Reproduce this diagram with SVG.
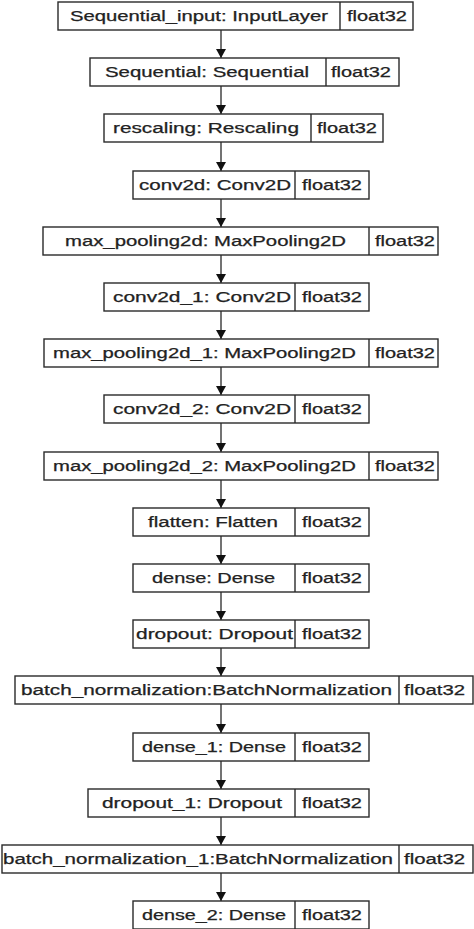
<svg xmlns="http://www.w3.org/2000/svg" width="474" height="929" viewBox="0 0 474 929">
<defs>
<style>
.box{fill:#fff;stroke:#2a2a2a;stroke-width:1.4}
.t{font-family:"Liberation Sans",Arial,sans-serif;font-size:14px;fill:#222;stroke:#222;stroke-width:0.25}
.e{stroke:#444;stroke-width:1.5;fill:none;marker-end:url(#ah)}
</style>
<marker id="ah" markerUnits="userSpaceOnUse" viewBox="0 0 9 10" refX="9" refY="5" markerWidth="9" markerHeight="10" orient="auto">
<path d="M0,0 L9,5 L0,10 z" fill="#111"/>
</marker>
</defs>
<rect width="474" height="929" fill="#fff"/>
<g id="connectors">
<line class="e" x1="221" y1="30" x2="221" y2="58"/>
<line class="e" x1="221" y1="86" x2="221" y2="114"/>
<line class="e" x1="221" y1="142" x2="221" y2="171"/>
<line class="e" x1="221" y1="199" x2="221" y2="227"/>
<line class="e" x1="221" y1="255" x2="221" y2="283"/>
<line class="e" x1="221" y1="311" x2="221" y2="339"/>
<line class="e" x1="221" y1="367" x2="221" y2="395"/>
<line class="e" x1="221" y1="423" x2="221" y2="452"/>
<line class="e" x1="221" y1="480" x2="221" y2="508"/>
<line class="e" x1="221" y1="536" x2="221" y2="564"/>
<line class="e" x1="221" y1="592" x2="221" y2="620"/>
<line class="e" x1="221" y1="648" x2="221" y2="676"/>
<line class="e" x1="221" y1="704" x2="221" y2="733"/>
<line class="e" x1="221" y1="761" x2="221" y2="789"/>
<line class="e" x1="221" y1="817" x2="221" y2="845"/>
<line class="e" x1="221" y1="873" x2="221" y2="901"/>
</g>
<g id="n1"><rect class="box" x="58" y="2" width="355" height="28"/><line class="box" x1="340" y1="2" x2="340" y2="30"/><text class="t" x="70" y="21" textLength="258" lengthAdjust="spacingAndGlyphs">Sequential_input: InputLayer</text><text class="t" x="347" y="21" textLength="60" lengthAdjust="spacingAndGlyphs">float32</text></g>
<g id="n2"><rect class="box" x="90" y="58" width="309" height="28"/><line class="box" x1="326" y1="58" x2="326" y2="86"/><text class="t" x="105" y="77" textLength="204" lengthAdjust="spacingAndGlyphs">Sequential: Sequential</text><text class="t" x="331" y="77" textLength="60" lengthAdjust="spacingAndGlyphs">float32</text></g>
<g id="n3"><rect class="box" x="104" y="114" width="279" height="28"/><line class="box" x1="311" y1="114" x2="311" y2="142"/><text class="t" x="113" y="133" textLength="186" lengthAdjust="spacingAndGlyphs">rescaling: Rescaling</text><text class="t" x="317" y="133" textLength="60" lengthAdjust="spacingAndGlyphs">float32</text></g>
<g id="n4"><rect class="box" x="133" y="171" width="236" height="28"/><line class="box" x1="295" y1="171" x2="295" y2="199"/><text class="t" x="139" y="190" textLength="152" lengthAdjust="spacingAndGlyphs">conv2d: Conv2D</text><text class="t" x="302" y="190" textLength="60" lengthAdjust="spacingAndGlyphs">float32</text></g>
<g id="n5"><rect class="box" x="43" y="227" width="395" height="28"/><line class="box" x1="369" y1="227" x2="369" y2="255"/><text class="t" x="65" y="246" textLength="281" lengthAdjust="spacingAndGlyphs">max_pooling2d: MaxPooling2D</text><text class="t" x="375" y="246" textLength="60" lengthAdjust="spacingAndGlyphs">float32</text></g>
<g id="n6"><rect class="box" x="104" y="283" width="265" height="28"/><line class="box" x1="295" y1="283" x2="295" y2="311"/><text class="t" x="113" y="302" textLength="178" lengthAdjust="spacingAndGlyphs">conv2d_1: Conv2D</text><text class="t" x="302" y="302" textLength="60" lengthAdjust="spacingAndGlyphs">float32</text></g>
<g id="n7"><rect class="box" x="44" y="339" width="394" height="28"/><line class="box" x1="369" y1="339" x2="369" y2="367"/><text class="t" x="53" y="358" textLength="303" lengthAdjust="spacingAndGlyphs">max_pooling2d_1: MaxPooling2D</text><text class="t" x="375" y="358" textLength="60" lengthAdjust="spacingAndGlyphs">float32</text></g>
<g id="n8"><rect class="box" x="104" y="395" width="265" height="28"/><line class="box" x1="295" y1="395" x2="295" y2="423"/><text class="t" x="113" y="414" textLength="178" lengthAdjust="spacingAndGlyphs">conv2d_2: Conv2D</text><text class="t" x="302" y="414" textLength="60" lengthAdjust="spacingAndGlyphs">float32</text></g>
<g id="n9"><rect class="box" x="44" y="452" width="394" height="28"/><line class="box" x1="369" y1="452" x2="369" y2="480"/><text class="t" x="53" y="471" textLength="303" lengthAdjust="spacingAndGlyphs">max_pooling2d_2: MaxPooling2D</text><text class="t" x="375" y="471" textLength="60" lengthAdjust="spacingAndGlyphs">float32</text></g>
<g id="n10"><rect class="box" x="133" y="508" width="236" height="28"/><line class="box" x1="295" y1="508" x2="295" y2="536"/><text class="t" x="148" y="527" textLength="130" lengthAdjust="spacingAndGlyphs">flatten: Flatten</text><text class="t" x="302" y="527" textLength="60" lengthAdjust="spacingAndGlyphs">float32</text></g>
<g id="n11"><rect class="box" x="133" y="564" width="236" height="28"/><line class="box" x1="295" y1="564" x2="295" y2="592"/><text class="t" x="152" y="583" textLength="123" lengthAdjust="spacingAndGlyphs">dense: Dense</text><text class="t" x="302" y="583" textLength="60" lengthAdjust="spacingAndGlyphs">float32</text></g>
<g id="n12"><rect class="box" x="133" y="620" width="236" height="28"/><line class="box" x1="295" y1="620" x2="295" y2="648"/><text class="t" x="136" y="639" textLength="157" lengthAdjust="spacingAndGlyphs">dropout: Dropout</text><text class="t" x="302" y="639" textLength="60" lengthAdjust="spacingAndGlyphs">float32</text></g>
<g id="n13"><rect class="box" x="15" y="676" width="458" height="28"/><line class="box" x1="399" y1="676" x2="399" y2="704"/><text class="t" x="21" y="695" textLength="371" lengthAdjust="spacingAndGlyphs">batch_normalization:BatchNormalization</text><text class="t" x="404" y="695" textLength="61" lengthAdjust="spacingAndGlyphs">float32</text></g>
<g id="n14"><rect class="box" x="133" y="733" width="236" height="28"/><line class="box" x1="295" y1="733" x2="295" y2="761"/><text class="t" x="142" y="752" textLength="144" lengthAdjust="spacingAndGlyphs">dense_1: Dense</text><text class="t" x="302" y="752" textLength="60" lengthAdjust="spacingAndGlyphs">float32</text></g>
<g id="n15"><rect class="box" x="88" y="789" width="281" height="28"/><line class="box" x1="295" y1="789" x2="295" y2="817"/><text class="t" x="102" y="808" textLength="180" lengthAdjust="spacingAndGlyphs">dropout_1: Dropout</text><text class="t" x="302" y="808" textLength="60" lengthAdjust="spacingAndGlyphs">float32</text></g>
<g id="n16"><rect class="box" x="2" y="845" width="471" height="28"/><line class="box" x1="399" y1="845" x2="399" y2="873"/><text class="t" x="3" y="864" textLength="390" lengthAdjust="spacingAndGlyphs">batch_normalization_1:BatchNormalization</text><text class="t" x="404" y="864" textLength="61" lengthAdjust="spacingAndGlyphs">float32</text></g>
<g id="n17"><rect class="box" x="133" y="901" width="236" height="28"/><line class="box" x1="295" y1="901" x2="295" y2="929"/><text class="t" x="142" y="920" textLength="144" lengthAdjust="spacingAndGlyphs">dense_2: Dense</text><text class="t" x="302" y="920" textLength="60" lengthAdjust="spacingAndGlyphs">float32</text></g>
</svg>
